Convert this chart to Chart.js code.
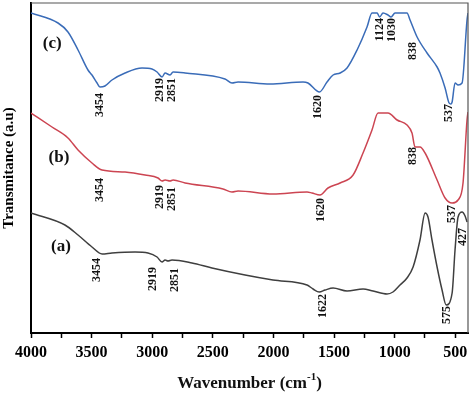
<!DOCTYPE html>
<html>
<head>
<meta charset="utf-8">
<script src="https://cdn.jsdelivr.net/npm/chart.js@4.4.1/dist/chart.umd.min.js"></script>
<style>
html, body { margin: 0; padding: 0; background: #fff; }
</style>
</head>
<body>
<canvas id="ftir" width="474" height="395"></canvas>
<script>
// FTIR spectra, wavenumber (cm-1) vs transmittance (arbitrary units, curves offset)
const wnC = [4000, 3777, 3695, 3612, 3530, 3497, 3455, 3431, 3390, 3332, 3224, 3084, 3002, 2960, 2919, 2894, 2853, 2828, 2729, 2400, 2342, 2292, 2028, 1756, 1715, 1620, 1558, 1508, 1450, 1393, 1310, 1228, 1187, 1145, 1124, 1096, 1055, 1030, 997, 898, 873, 815, 733, 650, 626, 584, 551, 537, 526, 502, 477, 444, 403, 395];
const tC  = [320, 310, 301, 283, 263, 258, 250, 246, 247, 253, 260, 265, 264, 261, 256, 260, 258, 261, 260, 254, 250, 251, 249, 251, 250, 241, 251, 258, 260, 265, 283, 306, 320, 320, 316, 320, 318, 316, 320, 320, 313, 296, 280, 266, 260, 245, 230, 229, 231, 250, 248, 250, 313, 320];

const wnB = [4000, 3827, 3695, 3612, 3497, 3414, 3224, 3059, 2952, 2919, 2894, 2853, 2828, 2729, 2416, 2342, 2292, 2004, 1723, 1682, 1616, 1550, 1450, 1343, 1261, 1187, 1137, 1055, 980, 898, 857, 832, 791, 749, 650, 584, 526, 477, 436, 403, 395];
const tB  = [220, 206, 195, 183, 170, 163, 161, 158, 155, 152, 153, 152, 153, 150, 144, 141, 142, 139, 141, 140, 138, 145, 150, 158, 180, 203, 220, 220, 213, 208, 200, 186, 186, 180, 153, 135, 130, 133, 150, 213, 221];

const wnA = [4000, 3720, 3612, 3497, 3414, 3332, 3142, 3035, 2960, 2919, 2894, 2870, 2837, 2672, 2507, 2234, 2004, 1723, 1673, 1622, 1574, 1508, 1393, 1261, 1178, 1063, 1014, 956, 898, 848, 791, 749, 725, 692, 650, 609, 575, 526, 502, 477, 444, 419, 403];
const tA  = [120, 108, 98, 86, 79, 80, 81, 80, 76, 71, 73, 72, 73, 70, 65, 58, 53, 48, 44, 41, 43, 45, 42, 44, 42, 39, 41, 48, 55, 66, 93, 120, 116, 93, 66, 43, 28, 40, 83, 116, 121, 117, 111];

const seriesNames = ['(a)', '(b)', '(c)'];
const seriesColors = ['#3f3f3f', '#cc4552', '#3a6cb8'];

const xTicks = [4000, 3750, 3500, 3250, 3000, 2750, 2500, 2250, 2000, 1750, 1500, 1250, 1000, 750, 500];

// peak labels: text, x (cm-1) and top of the label (curve units)
const peakText = ['3454', '2919', '2851', '1620', '1124', '1030', '838', '537',
                  '3454', '2919', '2851', '1620', '838', '537',
                  '3454', '2919', '2851', '1622', '575', '427'];
const peakX = [3431, 2936, 2837, 1632, 1121, 1022, 848, 551,
               3431, 2936, 2837, 1607, 848, 526,
               3455, 2994, 2812, 1591, 568, 436];
const peakTop = [240, 255, 255, 238, 315, 315, 291, 229,
                 155, 148, 146, 135, 186, 128,
                 75, 66, 65, 39, 27, 105];

const nameX = [3835, 3855, 3903];
const nameY = [86, 175, 289];

function pts(xs, ys) {
    return xs.map((x, i) => ({ x: x, y: ys[i] }));
}

const serif = '"Liberation Serif", "Times New Roman", serif';

const annotations = {
    id: 'annotations',
    afterDatasetsDraw(chart) {
        const ctx = chart.ctx;
        const xs = chart.scales.x;
        const ys = chart.scales.y;
        const a = chart.chartArea;

        ctx.save();
        // thin frame on top and right
        ctx.strokeStyle = '#555';
        ctx.lineWidth = 1.2;
        ctx.beginPath();
        ctx.moveTo(a.left, a.top);
        ctx.lineTo(a.right, a.top);
        ctx.lineTo(a.right, a.bottom);
        ctx.stroke();

        // rotated peak labels
        ctx.fillStyle = '#111';
        ctx.font = 'bold 12px ' + serif;
        ctx.textAlign = 'right';
        ctx.textBaseline = 'middle';
        peakText.forEach((t, i) => {
            ctx.save();
            ctx.translate(xs.getPixelForValue(peakX[i]), ys.getPixelForValue(peakTop[i]));
            ctx.rotate(-Math.PI / 2);
            ctx.fillText(t, 0, 0);
            ctx.restore();
        });

        // series names
        ctx.font = 'bold 17px ' + serif;
        ctx.textAlign = 'left';
        seriesNames.forEach((n, i) => {
            ctx.fillText(n, xs.getPixelForValue(nameX[i]), ys.getPixelForValue(nameY[i]));
        });

        // x axis title with superscript
        const big = 'bold 17px ' + serif;
        const small = 'bold 11px ' + serif;
        ctx.font = big;
        const w1 = ctx.measureText('Wavenumber (cm').width;
        const w3 = ctx.measureText(')').width;
        ctx.font = small;
        const w2 = ctx.measureText('-1').width;
        let x0 = (a.left + a.right) / 2 - (w1 + w2 + w3) / 2;
        const base = 388;
        ctx.textBaseline = 'alphabetic';
        ctx.font = big;
        ctx.fillText('Wavenumber (cm', x0, base);
        ctx.font = small;
        ctx.fillText('-1', x0 + w1, base - 8);
        ctx.font = big;
        ctx.fillText(')', x0 + w1 + w2, base);
        ctx.restore();
    }
};

const ctx = document.getElementById('ftir').getContext('2d');
const chart = new Chart(ctx, {
    type: 'line',
    data: {
        datasets: [
            { label: seriesNames[0], data: pts(wnA, tA), borderColor: seriesColors[0] },
            { label: seriesNames[1], data: pts(wnB, tB), borderColor: seriesColors[1] },
            { label: seriesNames[2], data: pts(wnC, tC), borderColor: seriesColors[2] }
        ]
    },
    options: {
        responsive: false,
        animation: false,
        layout: { padding: { top: 3, right: 6, left: 0, bottom: 0 } },
        elements: {
            point: { radius: 0 },
            line: { borderWidth: 1.5, cubicInterpolationMode: 'monotone', fill: false }
        },
        plugins: {
            legend: { display: false },
            tooltip: { enabled: false }
        },
        scales: {
            x: {
                type: 'linear',
                reverse: true,
                min: 395,
                max: 4000,
                afterBuildTicks: (s) => { s.ticks = xTicks.map(v => ({ value: v })); },
                afterFit: (s) => { s.height = 62; },
                grid: { drawOnChartArea: false, drawTicks: true, tickLength: 5, color: '#000', tickWidth: 1.5 },
                border: { display: true, color: '#000', width: 2 },
                ticks: {
                    color: '#000',
                    padding: 5,
                    maxRotation: 0,
                    autoSkip: false,
                    font: { family: serif, size: 16, weight: 'bold' },
                    callback: (v) => (v % 500 === 0 ? String(v) : '')
                }
            },
            y: {
                type: 'linear',
                min: 0,
                max: 330,
                afterFit: (s) => { s.width = 31; },
                grid: { display: false, drawOnChartArea: false, drawTicks: false },
                border: { display: true, color: '#000', width: 2 },
                ticks: { display: false },
                title: {
                    display: true,
                    text: 'Transmitance (a.u)',
                    color: '#000',
                    padding: { top: 0, bottom: 0 },
                    font: { family: serif, size: 15, weight: 'bold' }
                }
            }
        }
    },
    plugins: [annotations]
});
</script>
</body>
</html>
